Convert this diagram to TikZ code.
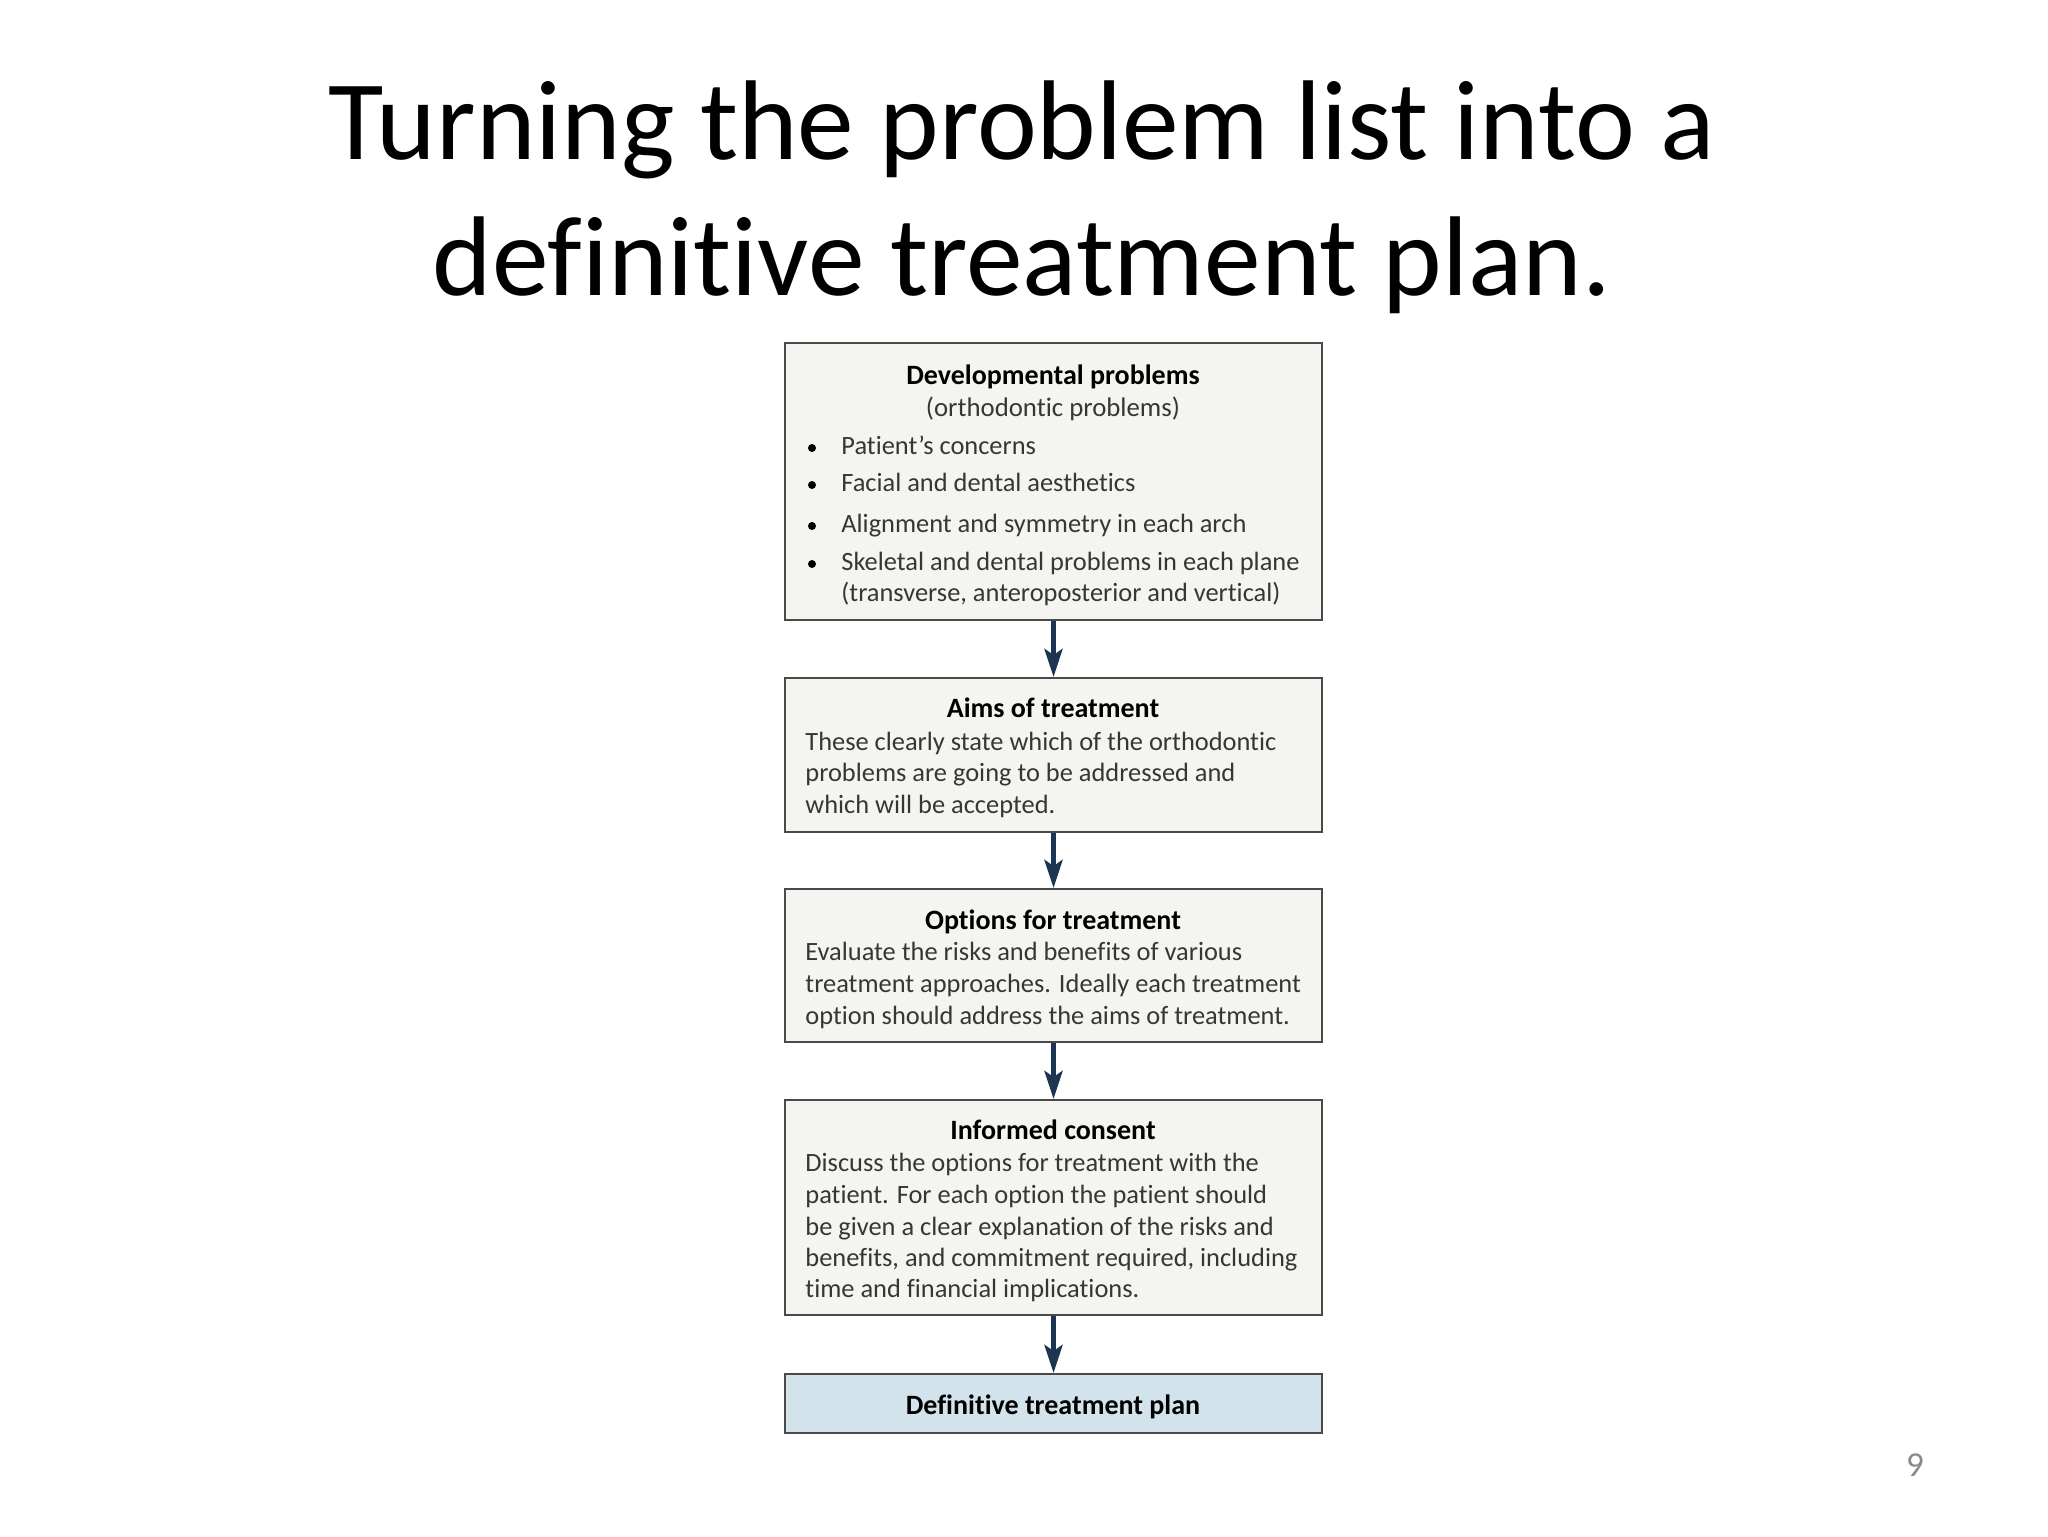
\documentclass[tikz,border=0pt]{standalone}
\usepackage{fontspec}
\setmainfont{Carlito}[Ligatures=NoCommon]
\usetikzlibrary{arrows.meta}
\definecolor{boxfill}{HTML}{F4F4F0}
\definecolor{planfill}{HTML}{D2E3EC}
\definecolor{boxline}{HTML}{4A4A4A}
\definecolor{bodytext}{HTML}{363636}
\definecolor{arrowcol}{HTML}{1B3552}
\definecolor{pagenum}{HTML}{8A8A8A}
\tikzset{
  box/.style={draw=boxline, line width=1pt, fill=boxfill, inner sep=0pt},
  planbox/.style={box, fill=planfill},
  head/.style={anchor=base, inner sep=0pt, font=\fontsize{14}{16}\selectfont\bfseries, text=black},
  body/.style={anchor=base west, inner sep=0pt, font=\fontsize{13.2}{15}\selectfont, text=bodytext},
  sub/.style={anchor=base, inner sep=0pt, font=\fontsize{13.4}{15}\selectfont, text=bodytext},
  bullet/.style={circle, fill=black, inner sep=0pt, minimum size=4pt},
  flow/.style={draw=arrowcol, line width=2.5pt, -{Stealth[length=14pt,width=9pt,inset=3pt]}},
  titletext/.style={anchor=base, inner sep=0pt, font=\fontsize{56.7}{68}\selectfont, text=black},
}
\begin{document}
\begin{tikzpicture}[x=0.5pt,y=-0.5pt]
\useasboundingbox[fill=white] (0,0) rectangle (2048,1536);
% title
\node[titletext] (t1) at (1022,159) {Turning the problem list into a};
\node[titletext] (t2) at (1022,295) {definitive treatment plan.};
% boxes
\node[box, minimum width=268.5pt, minimum height=138.5pt] (b1) at (1053.5,481.5) {};
\node[box, minimum width=268.5pt, minimum height=77pt] (b2) at (1053.5,755) {};
\node[box, minimum width=268.5pt, minimum height=76.5pt] (b3) at (1053.5,965.5) {};
\node[box, minimum width=268.5pt, minimum height=107.5pt] (b4) at (1053.5,1207.5) {};
\node[planbox, minimum width=268.5pt, minimum height=29.5pt] (b5) at (1053.5,1403.5) {};
% box 1 text
\node[head] (h1) at (1053,384) {Developmental problems};
\node[sub] (s1) at (1053,416) {(orthodontic problems)};
\node[bullet] (p1) at (812,448) {};
\node[body] (l1a) at (841,454) {Patient’s concerns};
\node[bullet] (p2) at (812,485) {};
\node[body] (l1b) at (841,491) {Facial and dental aesthetics};
\node[bullet] (p3) at (812,526) {};
\node[body] (l1c) at (841,532) {Alignment and symmetry in each arch};
\node[bullet] (p4) at (812,564) {};
\node[body] (l1d) at (841,570) {Skeletal and dental problems in each plane};
\node[body] (l1e) at (841,601) {(transverse, anteroposterior and vertical)};
% box 2 text
\node[head] (h2) at (1053,717) {Aims of treatment};
\node[body] (l2a) at (805,750) {These clearly state which of the orthodontic};
\node[body] (l2b) at (805,781) {problems are going to be addressed and};
\node[body] (l2c) at (805,813) {which will be accepted.};
% box 3 text
\node[head] (h3) at (1053,929) {Options for treatment};
\node[body] (l3a) at (805,960) {Evaluate the risks and benefits of various};
\node[body] (l3b) at (805,992) {treatment approaches. Ideally each treatment};
\node[body] (l3c) at (805,1024) {option should address the aims of treatment.};
% box 4 text
\node[head] (h4) at (1053,1139) {Informed consent};
\node[body] (l4a) at (805,1171) {Discuss the options for treatment with the};
\node[body] (l4b) at (805,1203) {patient. For each option the patient should};
\node[body] (l4c) at (805,1235) {be given a clear explanation of the risks and};
\node[body] (l4d) at (805,1266) {benefits, and commitment required, including};
\node[body] (l4e) at (805,1297) {time and financial implications.};
% box 5 text
\node[head] (h5) at (1053,1414) {Definitive treatment plan};
% arrows
\draw[flow] (b1.south) -- (b2.north);
\draw[flow] (b2.south) -- (b3.north);
\draw[flow] (b3.south) -- (b4.north);
\draw[flow] (b4.south) -- (b5.north);
% page number
\node[anchor=base, inner sep=0pt, font=\fontsize{17.5}{20}\selectfont, text=pagenum] (pg) at (1915,1476) {9};
\end{tikzpicture}
\end{document}
